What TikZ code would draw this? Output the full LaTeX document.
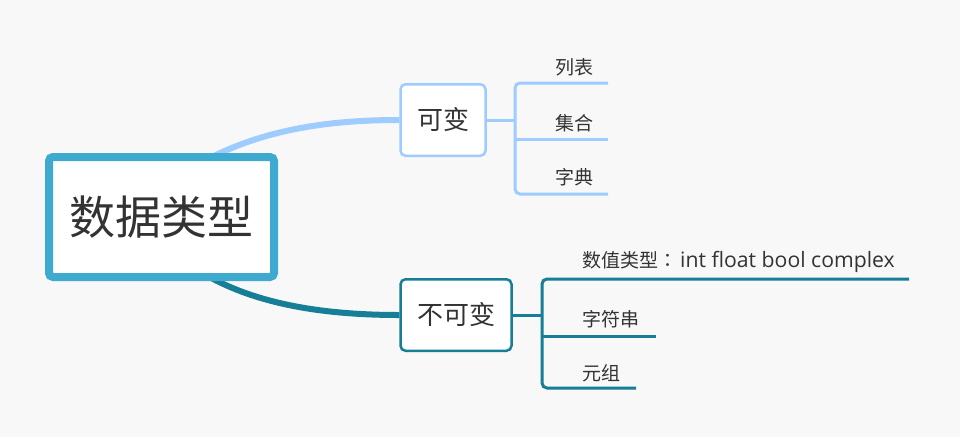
\documentclass[tikz,border=0pt]{standalone}
\usepackage{fontspec}
\setmainfont{Noto Sans CJK SC}
\newfontfamily\latinfont{Open Sans}
\newfontfamily\tcfont{Noto Sans CJK TC}
\usetikzlibrary{backgrounds}
\definecolor{rootBlue}{RGB}{62, 170, 208}
\definecolor{lightBlue}{RGB}{158, 204, 255}
\definecolor{darkTeal}{RGB}{22, 126, 150}
\definecolor{textGray}{RGB}{51, 51, 51}
\definecolor{bgGray}{RGB}{248, 248, 248}

\begin{document}
\begin{tikzpicture}[x=1pt, y=-1pt,
    topic/.style={draw, fill=white, rounded corners=5pt, line width=2.5pt, text=textGray, inner sep=0pt, font=\fontsize{26}{30}\selectfont},
    leaf/.style={anchor=west, inner sep=0pt, text=textGray, font=\fontsize{19}{23}\selectfont},
    branch/.style={line width=6pt},
    twig/.style={line width=3pt, rounded corners=5pt}]
        \useasboundingbox (0,0) rectangle (960,437);
        % main topics
        \node[topic, draw=rootBlue, line width=8pt, rounded corners=4pt, minimum width=225pt, minimum height=120pt, font=\fontsize{46}{52}\selectfont] (root) at (161.5,217) {数据类型};
        \node[topic, draw=lightBlue, minimum width=85pt, minimum height=71.5pt] (mut) at (443,120) {可变};
        \node[topic, draw=darkTeal, minimum width=111pt, minimum height=71.5pt] (immut) at (456,315) {不可变};
        % leaves
        \node[leaf] (list) at (555,67) {列表};
        \node[leaf] (set) at (555,123) {集合};
        \node[leaf] (dict) at (555,177) {字典};
        \node[leaf] (num) at (582,262) {数值类型{\tcfont ：}\hspace{3pt}{\latinfont\fontsize{21.2}{23}\selectfont int float bool complex}};
        \node[leaf] (str) at (582,319) {字符串};
        \node[leaf] (tup) at (582,373) {元组};
        \coordinate (mutj) at (515,120);
        \coordinate (listend) at (608,83);
        \coordinate (setend) at (608,139);
        \coordinate (dictend) at (608,194);
        \coordinate (immutj) at (542,315);
        \coordinate (numend) at (909,279);
        \coordinate (strend) at (656,336);
        \coordinate (tupend) at (636,388);
        \begin{pgfonlayer}{background}
          \fill[bgGray] (0,0) rectangle (960,437);
          \draw[branch, lightBlue] (206,160) .. controls (265,129) and (330,120) .. (mut.west);
          \draw[branch, darkTeal] (206,275) .. controls (260,306) and (330,315) .. (immut.west);
        \end{pgfonlayer}
        % brackets
        \draw[twig, lightBlue] (mut.east) -- (mutj);
        \draw[twig, lightBlue] (listend) -| (mutj) |- (dictend);
        \draw[twig, lightBlue] (mutj |- setend) -- (setend);
        \draw[twig, darkTeal] (immut.east) -- (immutj);
        \draw[twig, darkTeal] (numend) -| (immutj) |- (tupend);
        \draw[twig, darkTeal] (immutj |- strend) -- (strend);
      \end{tikzpicture}
\end{document}
